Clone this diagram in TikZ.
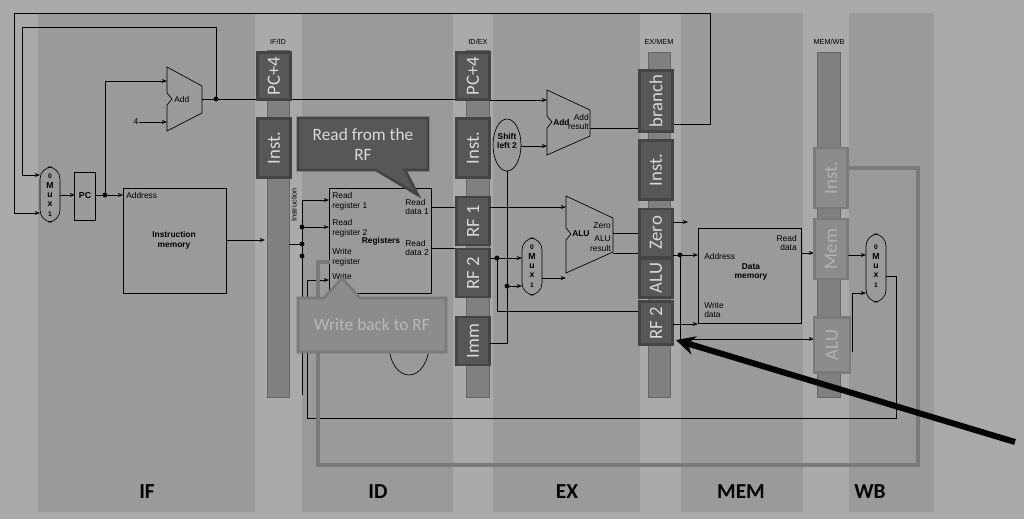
\documentclass[tikz,border=0pt]{standalone}
\usepackage{fontspec}
\setmainfont{Liberation Sans}
\newfontfamily\calfnt{Carlito}
\usetikzlibrary{arrows.meta}
\definecolor{bg}{HTML}{AAAAAA}
\definecolor{band}{HTML}{9A9A9A}
\definecolor{bar}{HTML}{808080}
\definecolor{dbox}{HTML}{575757}
\definecolor{dedge}{HTML}{444444}
\definecolor{lbox}{HTML}{8C8C8C}
\definecolor{ledge}{HTML}{7A7A7A}
\begin{document}
\begin{tikzpicture}[x=0.75pt,y=-0.75pt,
  w/.style={line width=0.5pt},
  a/.style={w,-{Stealth[length=4pt,width=3pt]}},
  dot/.style={circle,fill=black,inner sep=1.3pt},
  st/.style={font=\calfnt\bfseries\fontsize{16}{16}\selectfont},
  rl/.style={font=\fontsize{5.5}{5.5}\selectfont},
  sm/.style={font=\fontsize{6.3}{7.3}\selectfont,align=left,inner sep=0pt},
  mx/.style={font=\bfseries\fontsize{6.5}{7}\selectfont,align=center,inner sep=0pt},
  db/.style={draw=dedge,line width=2pt,fill=dbox,text=white!85!black,font=\calfnt\fontsize{14}{14}\selectfont},
  lb/.style={draw=ledge,line width=2pt,fill=lbox,text=white!70!black,font=\calfnt\fontsize{14}{14}\selectfont},
  regbar/.style={draw=black!60,fill=bar,line width=0.4pt}]
\fill[bg] (0,0) rectangle (1024,519);
\foreach \a/\b in {38/255,302/453,493/640,681/803,849/934}
  \fill[band] (\a,13) rectangle (\b,512);
\node[st] at (147,492) {IF};
\node[st] at (378,492) {ID};
\node[st] at (567,492) {EX};
\node[st] at (741,492) {MEM};
\node[st] at (870,492) {WB};
% pipeline bars
\draw[regbar] (267,50) rectangle (289,397);
\draw[regbar] (466,50) rectangle (489,397);
\draw[regbar] (648,52) rectangle (670,397);
\draw[regbar] (817,52) rectangle (840,397);
\node[rl] at (278,42) {IF/ID};
\node[rl] at (478,42) {ID/EX};
\node[rl] at (659,42) {EX/MEM};
\node[rl] at (829,42) {MEM/WB};
% IF
\draw[w,rounded corners=9pt] (40,167) rectangle (60,222);
\node[mx] (mux1) at (50,195) {\tiny 0\\M\\u\\x\\\tiny 1};
\node[draw,w,minimum width=15pt,minimum height=36pt,font=\bfseries\fontsize{6.5}{7}\selectfont] (pc) at (85,196) {PC};
\draw[w,fill=band] (167,67) -- (202,86) -- (202,113) -- (167,131) -- (167,105) -- (172,99) -- (167,93) -- cycle;
\node[sm,anchor=west] at (174,99) {Add};
\node[sm] (four) at (136,122) {4};
\draw[a] (four) -- (167,122);
\draw[w] (123,188) rectangle (226,293);
\node[sm,anchor=west] at (126,195) {Address};
\node[sm,align=center,font=\bfseries\fontsize{6.3}{7.3}\selectfont] at (174,240) {Instruction\\memory};
\draw[a] (60,195) -- (75,195);
\draw[w] (95,195) -- (105,195); \node[dot] at (105,195) {};
\draw[a] (105,195) -- (123,195);
\draw[a] (105,195) |- (167,81);
\draw[w] (202,99) -- (456,99); \node[dot] at (216,99) {};
\draw[a] (216,99) |- (22,27) |- (40,175);
\draw[a] (673,124) -- (710,124) |- (14,13) |- (40,213);
\draw[a] (226,240) -- (265,240);
% IF/ID boxes
\node[db,minimum width=25pt,minimum height=35pt] at (274,76) {\rotatebox{90}{PC+4}};
\node[db,minimum width=25pt,minimum height=44pt] at (274,148) {\rotatebox{90}{Inst.}};
\node[rl,rotate=90] at (294,205) {Instruction};
% ID
\draw[w] (329,188) rectangle (431,293);
\node[sm,anchor=west] at (332,201) {Read\\register 1};
\node[sm,anchor=west] at (332,228) {Read\\register 2};
\node[sm,anchor=west] at (332,257) {Write\\register};
\node[sm,anchor=west] at (332,276) {Write};
\node[sm,font=\bfseries\fontsize{6.3}{7}\selectfont] at (381,241) {Registers};
\node[sm,anchor=east] at (429,207) {Read\\data 1};
\node[sm,anchor=east] at (429,248) {Read\\data 2};
\draw[w] (289,244) -- (302,244);
\draw[w] (302,200) -- (302,395);
\draw[a] (302,200) -- (329,200);
\draw[a] (302,227) -- (329,227);
\foreach \y in {227,244,256} \node[dot] at (302,\y) {};
\draw[a] (896,276) -- (896,418) -- (307,418) -- (307,280) -- (329,280);
\draw[w] (409,345) ellipse (20 and 30);
\draw[w] (431,207) -- (456,207);
\draw[w] (431,248) -- (456,248);
% ID/EX boxes
\node[db,minimum width=25pt,minimum height=35pt] at (473,76) {\rotatebox{90}{PC+4}};
\node[db,minimum width=25pt,minimum height=44pt] at (473,148) {\rotatebox{90}{Inst.}};
\node[db,minimum width=25pt,minimum height=36pt] at (473,221) {\rotatebox{90}{RF 1}};
\node[db,minimum width=25pt,minimum height=36pt] at (473,273) {\rotatebox{90}{RF 2}};
\node[db,minimum width=25pt,minimum height=36pt] at (473,341) {\rotatebox{90}{Imm}};
% EX
\draw[a] (490,100) -- (547,100);
\draw[w,fill=band] (547,90) -- (590,110) -- (590,136) -- (547,155) -- (547,128) -- (552,122) -- (547,116) -- cycle;
\node[sm,anchor=west,font=\bfseries\fontsize{6.3}{7}\selectfont] at (553,122) {Add};
\node[sm,align=right,anchor=east] at (589,122) {Add\\result};
\draw[w] (590,128) -- (639,128);
\draw[w] (507,145) ellipse (14 and 26);
\node[sm,align=center,font=\bfseries\fontsize{6.3}{7.3}\selectfont] at (507,141) {Shift\\left 2};
\draw[a] (521,146) -- (547,146);
\draw[w] (507,171) -- (507,343) -- (490,343);
\draw[a] (490,207) -- (566,207);
\draw[w,fill=band] (566,196) -- (613,218) -- (613,252) -- (566,273) -- (566,240) -- (571,234) -- (566,228) -- cycle;
\node[sm,anchor=west,font=\bfseries\fontsize{6.3}{7}\selectfont] at (572,234) {ALU};
\node[sm,anchor=east] at (611,226) {Zero};
\node[sm,align=right,anchor=east] at (611,244) {ALU\\result};
\draw[w] (613,233) -- (639,233);
\draw[w] (613,253) -- (639,253);
\draw[w,rounded corners=9pt] (522,238) rectangle (542,295);
\node[mx] at (532,266) {\tiny 0\\M\\u\\x\\\tiny 1};
\draw[w] (490,258) -- (497,258); \node[dot] at (497,258) {};
\draw[a] (497,258) -- (522,258);
\draw[w] (497,258) -- (497,311) -- (639,311);
\node[dot] at (507,286) {};
\draw[a] (507,286) -- (522,286);
\draw[a] (542,278) -- (566,278);
% EX/MEM boxes
\node[db,minimum width=25pt,minimum height=44pt] at (656,101) {\rotatebox{90}{branch}};
\node[db,minimum width=25pt,minimum height=44pt] at (656,170) {\rotatebox{90}{Inst.}};
\node[db,minimum width=25pt,minimum height=36pt] at (656,233) {\rotatebox{90}{Zero}};
\node[db,minimum width=25pt,minimum height=28pt] at (656,278) {\rotatebox{90}{ALU}};
\node[db,minimum width=25pt,minimum height=32pt] at (656,323) {\rotatebox{90}{RF 2}};
% MEM
\draw[a] (673,222) -- (688,222);
\draw[w] (673,255) -- (680,255); \node[dot] at (680,255) {};
\draw[a] (680,255) -- (698,255);
\draw[a] (680,255) -- (680,339) -- (814,339);
\draw[a] (673,324) -- (698,324);
\draw[w] (698,228) rectangle (801,323);
\node[sm,anchor=west] at (704,256) {Address};
\node[sm,align=right,anchor=east] at (797,243) {Read\\data};
\node[sm,align=center,font=\bfseries\fontsize{6.3}{7.3}\selectfont] at (751,272) {Data\\memory};
\node[sm,anchor=west] at (704,310) {Write\\data};
\draw[a] (801,253) -- (814,253);
% MEM/WB boxes
\node[lb,minimum width=25pt,minimum height=45pt] (wbinst) at (831,178) {\rotatebox{90}{Inst.}};
\node[lb,minimum width=25pt,minimum height=45pt] at (831,249) {\rotatebox{90}{Mem}};
\node[lb,minimum width=27pt,minimum height=41pt] at (832,345) {\rotatebox{90}{ALU}};
\draw[a] (848,255) -- (866,255);
\draw[w,rounded corners=9pt] (866,234) rectangle (886,302);
\node[mx] at (876,266) {\tiny 0\\M\\u\\x\\\tiny 1};
\draw[a] (852,352) -- (852,293) -- (866,293);
\draw[w] (886,276) -- (896,276);
% gray WB path
\draw[ledge,line width=3pt] (848,168) -- (918,168) -- (918,465) -- (318,465) -- (318,262) -- (330,262);
% callouts
\draw[dedge,line width=2pt,fill=dbox] (298,118) -- (428,118) -- (428,170) -- (405,170) -- (418,195) -- (376,170) -- (298,170) -- cycle;
\node[align=center,text=white!85!black,font=\calfnt\fontsize{13}{15}\selectfont] at (363,144) {Read from the\\RF};
\draw[ledge,line width=2pt,fill=lbox] (298,298) -- (324,298) -- (342,278) -- (360,298) -- (446,298) -- (446,352) -- (298,352) -- cycle;
\node[text=white!72!black,font=\calfnt\fontsize{13}{15}\selectfont] at (372,325) {Write back to RF};
% big arrow
\draw[line width=4.5pt,-{Stealth[length=14pt,width=14pt]}] (1015,442) -- (676,340);
\end{tikzpicture}
\end{document}
